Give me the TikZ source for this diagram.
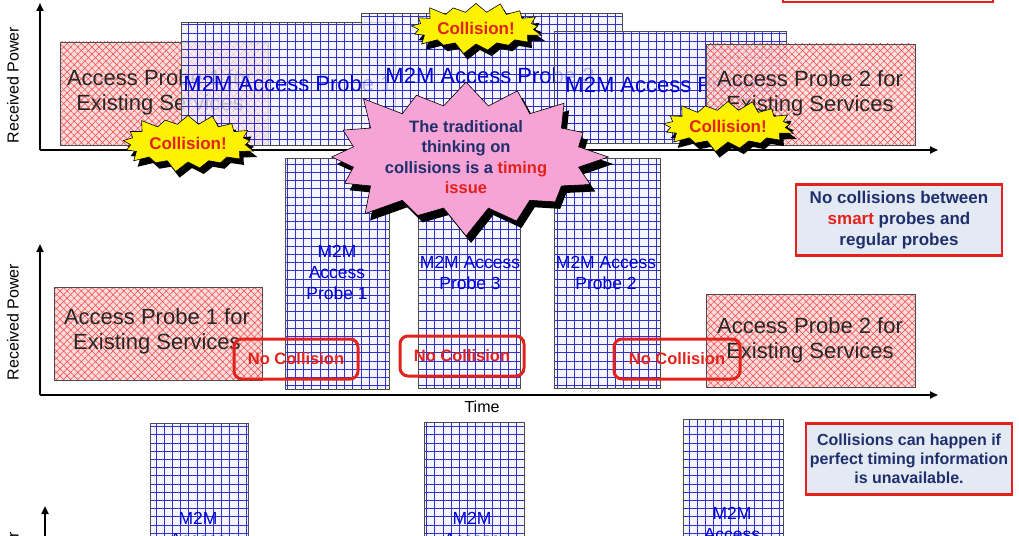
\documentclass[tikz,border=0pt]{standalone}
\usepackage{fontspec}
\setmainfont{Liberation Sans}
\usetikzlibrary{shapes.symbols,shadows,patterns.meta,arrows.meta}
\definecolor{dblue}{HTML}{1F2F6B}
\definecolor{cred}{HTML}{E3221B}
\definecolor{boxbg}{HTML}{E4EAF4}
\definecolor{pinkst}{HTML}{F6A3D6}
\definecolor{apfill}{HTML}{F6DCDC}
\tikzset{
  m2mfill/.style={fill=blue!5,fill opacity=0.75},
  gridline/.style={draw=blue!75!black,line width=0.5pt,opacity=0.8},
  boxedge/.style={draw=black!70,line width=0.6pt},
  axis/.style={line width=2.2pt,-{Triangle[length=8pt,width=7pt]}},
  apbig/.style={font=\fontsize{22}{25}\selectfont,align=center,text=black!85},
  m2mbig/.style={font=\fontsize{22}{25}\selectfont,align=center,text=blue!85!black},
  m2msmall/.style={font=\fontsize{17.5}{21}\selectfont,align=center,text=blue!85!black},
  burst/.style={starburst,starburst points=17,starburst point height=12pt,fill=yellow,draw=black,line width=0.6pt,
     drop shadow={fill=black,opacity=1,shadow xshift=4pt,shadow yshift=-6pt},
     font=\bfseries\fontsize{17}{19}\selectfont,text=cred,inner sep=2pt},
  nocol/.style={draw=cred,line width=3pt,rounded corners=8pt,minimum width=124pt,minimum height=40pt,
     font=\bfseries\fontsize{16.5}{18}\selectfont,text=cred,inner sep=1pt},
  notebox/.style={draw=cred,line width=2.5pt,fill=boxbg,align=center,text=dblue,
     font=\bfseries\fontsize{17}{21}\selectfont,inner sep=3pt},
  ylab/.style={rotate=90,font=\fontsize{16}{18}\selectfont}
}
\newcommand\gbox[4]{%
  \begin{scope}
    \fill[m2mfill] (#1,#2) rectangle (#3,#4);
    \clip (#1,#2) rectangle (#3,#4);
    \draw[gridline,step=8.2pt] (#1,#2) grid (#3,#4);
  \end{scope}
  \draw[boxedge] (#1,#2) rectangle (#3,#4);}
\newcommand\apbox[4]{%
  \fill[apfill] (#1,#2) rectangle (#3,#4);
  \fill[pattern={Lines[angle=45,distance=5pt,line width=0.5pt]},pattern color=red!75] (#1,#2) rectangle (#3,#4);
  \fill[pattern={Lines[angle=-45,distance=5pt,line width=0.5pt]},pattern color=red!75] (#1,#2) rectangle (#3,#4);
  \draw[boxedge] (#1,#2) rectangle (#3,#4);}
\begin{document}
\begin{tikzpicture}[x=1pt,y=-1pt]
\useasboundingbox (0,0) rectangle (1019,535);
\clip (0,0) rectangle (1019,535);
% ---------- top panel ----------
\coordinate (t0) at (40,150);
\coordinate (ty) at (40,3);
\coordinate (tx) at (938,150);
\draw[axis] (t0) -- (ty);
\draw[axis] (t0) -- (tx);
\node[ylab] (tyl) at (13,85) {Received Power};
\apbox{60}{42}{268}{145}
\node[apbig] (tap1) at (160,92) {Access Probe 1 for\\Existing Services};
\gbox{181}{22}{395}{145}
\node[m2mbig] (tm1) at (288,84) {M2M Access Probe 1};
\gbox{361}{13}{622}{143}
\node[m2mbig] (tm3) at (490,76) {M2M Access Probe 3};
\gbox{554}{31}{786}{143}
\node[m2mbig] (tm2) at (670,85) {M2M Access Probe 2};
\begin{scope}[fill opacity=0.85,draw opacity=1]
\apbox{706}{44}{915}{145}
\end{scope}
\node[apbig] (tap2) at (810,93) {Access Probe 2 for\\Existing Services};
\draw[draw=cred,line width=2.5pt] (783,-10) rectangle (993,2);
\node[burst,minimum width=125pt,minimum height=62pt] (c1) at (188,143) {Collision!};
\node[burst,minimum width=118pt,minimum height=56pt] (c2) at (476,28) {Collision!};
\node[burst,minimum width=118pt,minimum height=56pt] (c3) at (728,126) {Collision!};
% ---------- middle panel ----------
\coordinate (m0) at (40,395);
\coordinate (my) at (40,244);
\coordinate (mx) at (938,395);
\draw[axis] (m0) -- (my);
\draw[axis] (m0) -- (mx);
\node[ylab] (myl) at (13,322) {Received Power};
\node[font=\fontsize{16}{18}\selectfont] (time) at (482,407) {Time};
\apbox{54}{287}{262}{380}
\node[apbig] (map1) at (157,331) {Access Probe 1 for\\Existing Services};
\gbox{285}{158}{389}{389}
\node[m2msmall] (mm1) at (337,272) {M2M\\Access\\Probe 1};
\gbox{418}{158}{520}{388}
\node[m2msmall] (mm3) at (470,273) {M2M Access\\Probe 3};
\gbox{554}{158}{660}{388}
\node[m2msmall] (mm2) at (606,273) {M2M Access\\Probe 2};
\apbox{706}{294}{915}{387}
\node[apbig] (map2) at (810,340) {Access Probe 2 for\\Existing Services};
\node[nocol] (n1) at (296,359) {No Collision};
\node[nocol] (n2) at (462,356) {No Collision};
\node[nocol,minimum width=126pt] (n3) at (677,359) {No Collision};
\node[notebox,minimum width=206pt,minimum height=71pt] (note1) at (899,220)
  {No collisions between\\\textcolor{cred}{smart} probes and\\regular probes};
% pink burst on top
\node[starburst,starburst points=16,starburst point height=32pt,fill=pinkst,draw=black,line width=0.6pt,
  drop shadow={fill=black,opacity=1,shadow xshift=5pt,shadow yshift=-7pt},
  minimum width=210pt,minimum height=140pt,align=center,text=dblue,
  font=\bfseries\fontsize{16.5}{20.5}\selectfont,inner sep=0pt] (pink) at (466,157)
  {The traditional\\thinking on\\collisions is a \textcolor{cred}{timing}\\\textcolor{cred}{issue}};
% ---------- bottom panel ----------
\gbox{150}{423}{248}{545}
\node[m2msmall] (b1) at (198,529) {M2M\\Access};
\gbox{424}{422}{524}{545}
\node[m2msmall] (b2) at (472,529) {M2M\\Access};
\gbox{683}{419}{783}{545}
\node[m2msmall] (b3) at (732,524) {M2M\\Access};
\coordinate (b0) at (45,545);
\coordinate (by) at (45,506);
\draw[axis] (b0) -- (by);
\node[ylab] (byl) at (13,590) {Received Power};
\node[notebox,minimum width=206pt,minimum height=71pt,font=\bfseries\fontsize{16}{19}\selectfont] (note2) at (909,459)
  {Collisions can happen if\\perfect timing information\\is unavailable.};
\end{tikzpicture}
\end{document}
